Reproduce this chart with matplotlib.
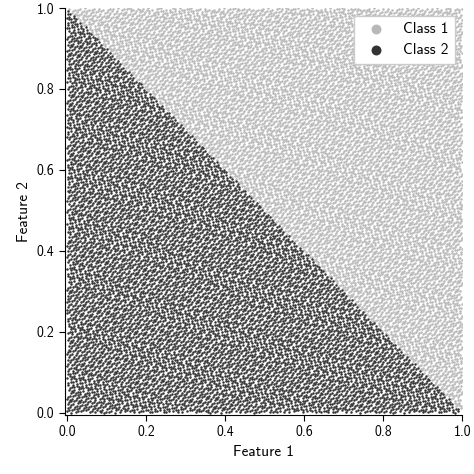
import numpy as np
import matplotlib
matplotlib.use("Agg")
import matplotlib.pyplot as plt

# Uniform sample of the unit square (deterministic R2 low-discrepancy sequence),
# split into two classes by the decision line x + y = 1.
n_points = 20000
g = 1.32471795724474602596
alpha = np.array([1 / g, 1 / g**2])
idx = np.arange(1, n_points + 1)[:, None]
pts = (0.5 + alpha * idx) % 1.0
feature1 = pts[:, 0]
feature2 = pts[:, 1]
is_class2 = feature1 + feature2 < 1.0

class_names = ["Class 1", "Class 2"]
class_colors = ["#b8b8b8", "#333333"]
xticks = [0.0, 0.2, 0.4, 0.6, 0.8, 1.0]
yticks = [0.0, 0.2, 0.4, 0.6, 0.8, 1.0]

plt.rcParams["font.family"] = ["cmss10", "DejaVu Sans"]
plt.rcParams["axes.formatter.use_mathtext"] = True

fig = plt.figure(figsize=(4.74, 4.74), dpi=100)
ax = fig.add_axes([0.137, 0.125, 0.838, 0.858])
ax.scatter(feature1[~is_class2], feature2[~is_class2], s=3.2, c=class_colors[0],
           linewidths=0, label=class_names[0])
ax.scatter(feature1[is_class2], feature2[is_class2], s=3.2, c=class_colors[1],
           linewidths=0, label=class_names[1])
ax.set_xlim(-0.005, 1.0)
ax.set_ylim(-0.005, 1.0)
ax.set_xticks(xticks)
ax.set_yticks(yticks)
ax.set_xticklabels([f"{t:.1f}" for t in xticks])
ax.set_yticklabels([f"{t:.1f}" for t in yticks])
ax.tick_params(labelsize=10, direction="out", length=4)
ax.spines["top"].set_visible(False)
ax.spines["right"].set_visible(False)
ax.set_xlabel("Feature 1", fontsize=11)
ax.set_ylabel("Feature 2", fontsize=11)
leg = ax.legend(loc="upper right", markerscale=4, fontsize=11, frameon=True,
                framealpha=1, edgecolor="#cccccc", fancybox=False)
fig.savefig("out.png", dpi=100)
